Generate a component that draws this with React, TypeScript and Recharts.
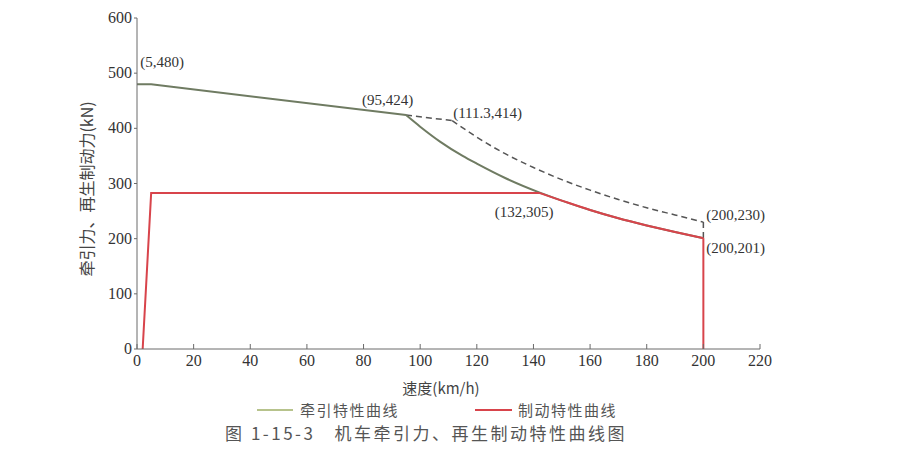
import React from 'react';
import { LineChart, Line, XAxis, YAxis, ReferenceDot } from 'recharts';

// traction characteristic (green): flat part then constant-power curve
const tractionFlatSpeed = [0, 5, 95];
const tractionFlatForce = [480, 480, 424];
const tractionCurveSpeed = [95, 100, 107, 115, 120, 130, 142, 150, 160, 170, 180, 190, 200];
const tractionCurveForce = [424, 403, 376, 350, 336, 310, 284, 269, 252, 237, 224, 212, 201];

// regenerative braking characteristic (red)
const brakeFlatSpeed = [2, 5, 142];
const brakeFlatForce = [0, 283, 283];
const brakeCurveSpeed = [142, 150, 160, 170, 180, 190, 200];
const brakeCurveForce = [283, 269, 252, 237, 224, 212, 201];
const brakeDropSpeed = [200, 200];
const brakeDropForce = [201, 0];

// dashed characteristic
const dashFlatSpeed = [95, 111.3];
const dashFlatForce = [424, 414];
const dashCurveSpeed = [111.3, 120, 130, 140, 150, 160, 170, 180, 190, 200];
const dashCurveForce = [414, 384, 354, 329, 307, 288, 271, 256, 243, 230];
const dashDropSpeed = [200, 200];
const dashDropForce = [230, 201];

const xTicks = [0, 20, 40, 60, 80, 100, 120, 140, 160, 180, 200, 220];
const yTicks = [0, 100, 200, 300, 400, 500, 600];

const notePoints = [
  { x: 5, y: 480, text: '(5,480)' },
  { x: 95, y: 424, text: '(95,424)' },
  { x: 111.3, y: 414, text: '(111.3,414)' },
  { x: 132, y: 305, text: '(132,305)' },
  { x: 200, y: 230, text: '(200,230)' },
  { x: 200, y: 201, text: '(200,201)' },
];

const noteOffsets: Record<string, [number, number]> = {
  '(5,480)': [-11, -17],
  '(95,424)': [-44, -10],
  '(111.3,414)': [1, -3],
  '(132,305)': [-16, 36],
  '(200,230)': [3, -2],
  '(200,201)': [3, 15],
};

const toRows = (xs: number[], ys: number[]) => xs.map((v, i) => ({ v, f: ys[i] }));

const SERIF = '"Liberation Serif", "DejaVu Serif", serif';
const CJK = '"Noto Sans CJK SC", "Noto Sans", sans-serif';
const AXIS = '#6a6a6a';
const GREEN = '#6f7b62';
const GREEN_LEGEND = '#b7c38c';
const RED = '#d8444b';
const DASH = '#555';

const PLOT_BOTTOM = 349;

// [data, colour, curved, dashed]
const segments: [any[], string, boolean, boolean][] = [
  [toRows(dashFlatSpeed, dashFlatForce), DASH, false, true],
  [toRows(dashCurveSpeed, dashCurveForce), DASH, true, true],
  [toRows(dashDropSpeed, dashDropForce), DASH, false, true],
  [toRows(tractionFlatSpeed, tractionFlatForce), GREEN, false, false],
  [toRows(tractionCurveSpeed, tractionCurveForce), GREEN, true, false],
  [toRows(brakeFlatSpeed, brakeFlatForce), RED, false, false],
  [toRows(brakeCurveSpeed, brakeCurveForce), RED, true, false],
  [toRows(brakeDropSpeed, brakeDropForce), RED, false, false],
];

const XTick = (props: any) => {
  const { x, payload } = props;
  return (
    <g>
      <line x1={x} x2={x} y1={PLOT_BOTTOM} y2={PLOT_BOTTOM - 5} stroke={AXIS} strokeWidth={1} />
      <text x={x} y={PLOT_BOTTOM + 17} textAnchor="middle" fontFamily={SERIF} fontSize={16} fill="#333">
        {payload.value}
      </text>
    </g>
  );
};

const YTick = (props: any) => {
  const { y, payload } = props;
  return (
    <g>
      <line x1={134} x2={137} y1={y} y2={y} stroke={AXIS} strokeWidth={1} />
      <text x={132} y={y + 5} textAnchor="end" fontFamily={SERIF} fontSize={16} fill="#333">
        {payload.value}
      </text>
    </g>
  );
};

const noteLabel = (text: string) => (props: any) => {
  const { viewBox } = props;
  const cx = viewBox.x + viewBox.width / 2;
  const cy = viewBox.y + viewBox.height / 2;
  const [dx, dy] = noteOffsets[text];
  return (
    <text x={cx + dx} y={cy + dy} fontFamily={SERIF} fontSize={15} fill="#333">
      {text}
    </text>
  );
};

const App: React.FC = () => {
  return (
    <div style={{ position: 'relative', width: 909, height: 455, background: '#fff' }}>
      <style>{'body{margin:0;}'}</style>
      <LineChart
        width={909}
        height={455}
        margin={{ top: 18, right: 149, left: 77, bottom: 76 }}
      >
        <XAxis
          type="number"
          dataKey="v"
          domain={[0, 220]}
          ticks={xTicks}
          interval={0}
          allowDuplicatedCategory={false}
          stroke={AXIS}
          tickLine={false}
          tick={<XTick />}
          height={30}
        />
        <YAxis
          type="number"
          dataKey="f"
          domain={[0, 600]}
          ticks={yTicks}
          interval={0}
          stroke={AXIS}
          tickLine={false}
          tick={<YTick />}
          width={60}
        />
        {segments.map(([rows, colour, curved, dashed], i) => (
          <Line
            key={i}
            data={rows}
            dataKey="f"
            type={curved ? 'monotone' : 'linear'}
            stroke={colour}
            strokeWidth={dashed ? 1.5 : 2}
            strokeDasharray={dashed ? '6 4' : undefined}
            dot={false}
            isAnimationActive={false}
          />
        ))}
        {notePoints.map((p) => (
          <ReferenceDot
            key={p.text}
            x={p.x}
            y={p.y}
            r={1}
            fill="none"
            stroke="none"
            label={noteLabel(p.text)}
          />
        ))}
      </LineChart>

      <div
        style={{
          position: 'absolute', left: 86, top: 189, transform: 'translate(-50%, -50%) rotate(-90deg)',
          whiteSpace: 'nowrap', fontFamily: CJK, fontSize: 16, color: '#444',
        }}
      >
        牵引力、再生制动力(kN)
      </div>
      <div
        style={{
          position: 'absolute', left: 441, top: 387, transform: 'translate(-50%, -50%)',
          whiteSpace: 'nowrap', fontFamily: CJK, fontSize: 15, color: '#444',
        }}
      >
        速度(km/h)
      </div>
      <div style={{ position: 'absolute', left: 257, top: 399, display: 'flex', alignItems: 'center', fontFamily: CJK, fontSize: 15, color: '#555', letterSpacing: 1.5 }}>
        <span style={{ display: 'inline-block', width: 36, height: 2, background: GREEN_LEGEND, marginRight: 7 }} />
        <span>牵引特性曲线</span>
      </div>
      <div style={{ position: 'absolute', left: 475, top: 399, display: 'flex', alignItems: 'center', fontFamily: CJK, fontSize: 15, color: '#555', letterSpacing: 1.5 }}>
        <span style={{ display: 'inline-block', width: 37, height: 2, background: RED, marginRight: 6 }} />
        <span>制动特性曲线</span>
      </div>
      <div
        style={{
          position: 'absolute', left: 426, top: 432, transform: 'translate(-50%, -50%)',
          whiteSpace: 'nowrap', fontFamily: CJK, fontSize: 17, color: '#555', letterSpacing: 2.5,
        }}
      >
        图 1-15-3&nbsp;&nbsp;&nbsp;机车牵引力、再生制动特性曲线图
      </div>
    </div>
  );
};

export default App;
